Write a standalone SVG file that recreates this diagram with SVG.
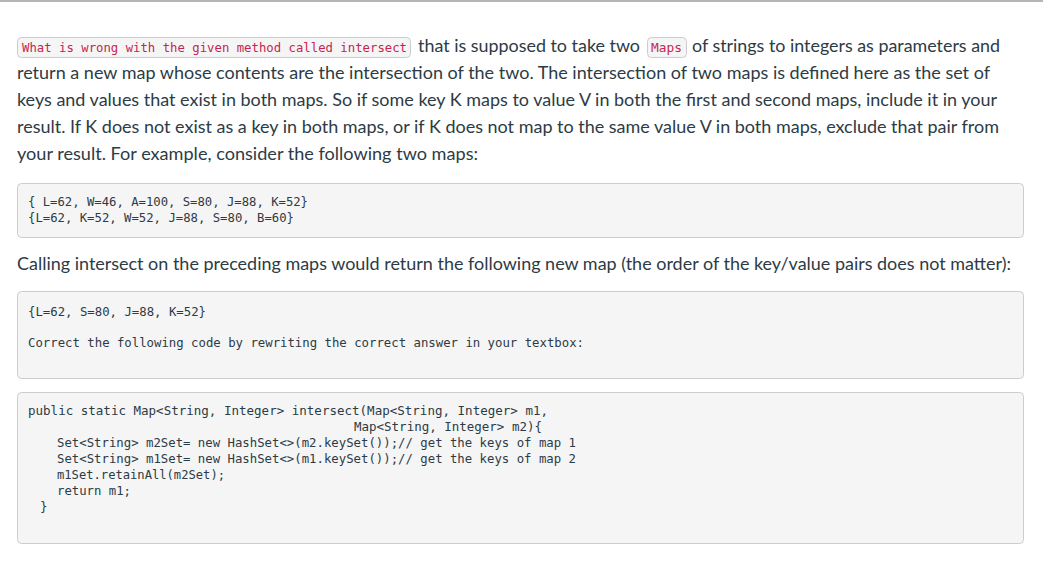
<svg xmlns="http://www.w3.org/2000/svg" width="1043" height="561" viewBox="0 0 1043 561">
<style>
.b{font-family:Lato,"Liberation Sans",sans-serif;font-size:17px;fill:#2d3b45}
.m{font-family:"DejaVu Sans Mono","Liberation Mono",monospace;font-size:12.5px;fill:#2d3b45}
.ic{font-family:"DejaVu Sans Mono","Liberation Mono",monospace;font-size:12px;fill:#c7254e}
.blk{fill:#f5f5f5;stroke:#cccccc;stroke-width:1}
.ib{fill:#f5f5f5;stroke:#cccccc;stroke-width:1}
</style>
<rect width="1043" height="561" fill="#fff"/>
<rect x="0" y="0" width="1043" height="2" fill="#b5b5b5"/>
<g id="para">
<rect class="ib" x="17.5" y="37.5" width="393" height="20" rx="4"/>
<text class="ic" x="22" y="52" textLength="385" lengthAdjust="spacingAndGlyphs">What is wrong with the given method called intersect</text>
<text class="b" x="418" y="52" textLength="222" lengthAdjust="spacingAndGlyphs">that is supposed to take two</text>
<rect class="ib" x="647.5" y="37.5" width="39" height="20" rx="4"/>
<text class="ic" x="651" y="52" textLength="31" lengthAdjust="spacingAndGlyphs">Maps</text>
<text class="b" x="692" y="52" textLength="308" lengthAdjust="spacingAndGlyphs">of strings to integers as parameters and</text>
<text class="b" x="17" y="79" textLength="973" lengthAdjust="spacingAndGlyphs">return a new map whose contents are the intersection of the two. The intersection of two maps is defined here as the set of</text>
<text class="b" x="17" y="106" textLength="980" lengthAdjust="spacingAndGlyphs">keys and values that exist in both maps. So if some key K maps to value V in both the first and second maps, include it in your</text>
<text class="b" x="17" y="133" textLength="982" lengthAdjust="spacingAndGlyphs">result. If K does not exist as a key in both maps, or if K does not map to the same value V in both maps, exclude that pair from</text>
<text class="b" x="17" y="160" textLength="461" lengthAdjust="spacingAndGlyphs">your result. For example, consider the following two maps:</text>
</g>
<g id="maps">
<rect class="blk" x="17.5" y="183.5" width="1006" height="54" rx="4"/>
<text class="m" x="28" y="206" textLength="280" lengthAdjust="spacingAndGlyphs">{ L=62, W=46, A=100, S=80, J=88, K=52}</text>
<text class="m" x="28" y="222" textLength="266" lengthAdjust="spacingAndGlyphs">{L=62, K=52, W=52, J=88, S=80, B=60}</text>
</g>
<text class="b" x="17" y="270" textLength="994" lengthAdjust="spacingAndGlyphs">Calling intersect on the preceding maps would return the following new map (the order of the key/value pairs does not matter):</text>
<g id="result">
<rect class="blk" x="17.5" y="291.5" width="1006" height="87" rx="4"/>
<text class="m" x="28" y="316" textLength="178" lengthAdjust="spacingAndGlyphs">{L=62, S=80, J=88, K=52}</text>
<text class="m" x="28" y="347" textLength="556" lengthAdjust="spacingAndGlyphs">Correct the following code by rewriting the correct answer in your textbox:</text>
</g>
<g id="code">
<rect class="blk" x="17.5" y="392.5" width="1006" height="151" rx="4"/>
<text class="m" x="28" y="415" textLength="520" lengthAdjust="spacingAndGlyphs">public static Map&lt;String, Integer&gt; intersect(Map&lt;String, Integer&gt; m1,</text>
<text class="m" x="354" y="431" textLength="188" lengthAdjust="spacingAndGlyphs">Map&lt;String, Integer&gt; m2){</text>
<text class="m" x="57" y="447" textLength="519" lengthAdjust="spacingAndGlyphs">Set&lt;String&gt; m2Set= new HashSet&lt;&gt;(m2.keySet());// get the keys of map 1</text>
<text class="m" x="57" y="463" textLength="519" lengthAdjust="spacingAndGlyphs">Set&lt;String&gt; m1Set= new HashSet&lt;&gt;(m1.keySet());// get the keys of map 2</text>
<text class="m" x="57" y="479" textLength="168" lengthAdjust="spacingAndGlyphs">m1Set.retainAll(m2Set);</text>
<text class="m" x="57" y="495" textLength="74" lengthAdjust="spacingAndGlyphs">return m1;</text>
<text class="m" x="40" y="511">}</text>
</g>
</svg>
